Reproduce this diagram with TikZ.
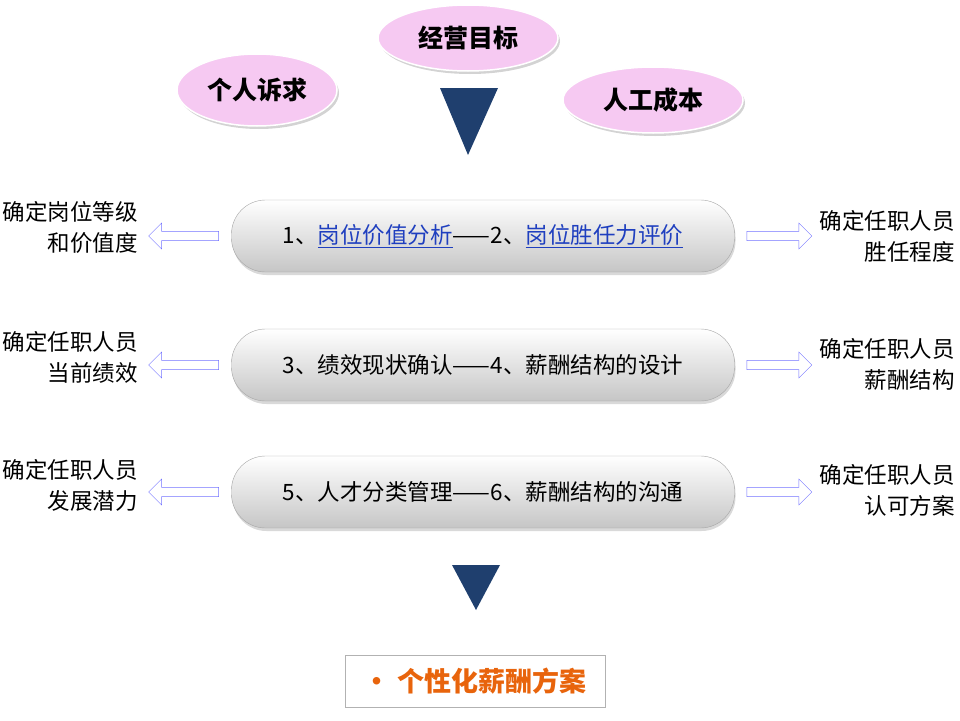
\documentclass[tikz,border=0pt]{standalone}
\usepackage{fontspec}
\setmainfont{Noto Sans CJK SC}
\usetikzlibrary{shapes.geometric,shapes.arrows,shadows}
\definecolor{navy}{HTML}{1F3F6E}
\definecolor{pinkf}{HTML}{F6C9F2}
\definecolor{orng}{HTML}{E8640C}
\definecolor{lnk}{HTML}{1F3FBF}
\tikzset{
 oval/.style={ellipse,fill=pinkf,draw=white,line width=1.5pt,minimum width=180pt,minimum height=66pt,inner sep=0pt,font=\fontsize{25pt}{28pt}\selectfont\bfseries,drop shadow={shadow xshift=2pt,shadow yshift=-3pt,opacity=0.35}},
 bar/.style={rounded corners=34pt,minimum width=503pt,minimum height=72pt,draw=gray!70,top color=white,bottom color=gray!45,font=\fontsize{22.5pt}{26pt}\selectfont,drop shadow={shadow xshift=1pt,shadow yshift=-3pt,opacity=0.3}},
 harrowl/.style={single arrow,shape border rotate=180,draw=blue!55,fill=white,minimum height=70pt,minimum width=26pt,single arrow head extend=4pt,inner sep=2pt},
 harrowr/.style={single arrow,draw=blue!55,fill=white,minimum height=65pt,minimum width=26pt,single arrow head extend=4pt,inner sep=2pt},
 side/.style={align=right,font=\fontsize{22.5pt}{31pt}\selectfont,inner sep=0pt},
 tri/.style={fill=navy},
}
\begin{document}
\begin{tikzpicture}[x=1pt,y=-1pt]
\useasboundingbox (0,0) rectangle (960,720);
\node[oval] (o2) at (468,38) {经营目标};
\node[oval,minimum width=160pt,minimum height=72pt] (o1) at (257,90) {个人诉求};
\node[oval] (o3) at (653,100) {人工成本};
\fill[tri] (440,88) -- (498,88) -- (468,155) -- cycle;
\node[bar] (b1) at (483,236) {1、\textcolor{lnk}{\underline{岗位价值分析}}——2、\textcolor{lnk}{\underline{岗位胜任力评价}}};
\node[bar] (b2) at (483,365) {3、绩效现状确认——4、薪酬结构的设计};
\node[bar] (b3) at (483,492) {5、人才分类管理——6、薪酬结构的沟通};
\foreach \y/\n in {236/1,365/2,492/3}{
 \node[harrowl] (l\n) at (186,\y) {};
 \node[harrowr] (r\n) at (777,\y) {};
}
\node[side,anchor=east] (t1) at (138,227) {确定岗位等级\\和价值度};
\node[side,anchor=east] (t2) at (138,357) {确定任职人员\\当前绩效};
\node[side,anchor=east] (t3) at (138,485) {确定任职人员\\发展潜力};
\node[side,anchor=east] (s1) at (955,236) {确定任职人员\\胜任程度};
\node[side,anchor=east] (s2) at (955,364) {确定任职人员\\薪酬结构};
\node[side,anchor=east] (s3) at (955,490) {确定任职人员\\认可方案};
\fill[tri] (452,565) -- (500,565) -- (476,610) -- cycle;
\node[draw=gray!60,line width=1pt,minimum width=260pt,minimum height=52pt,text=orng,font=\fontsize{27pt}{29pt}\selectfont\bfseries] (f) at (475,681) {•\ 个性化薪酬方案};
\end{tikzpicture}
\end{document}
